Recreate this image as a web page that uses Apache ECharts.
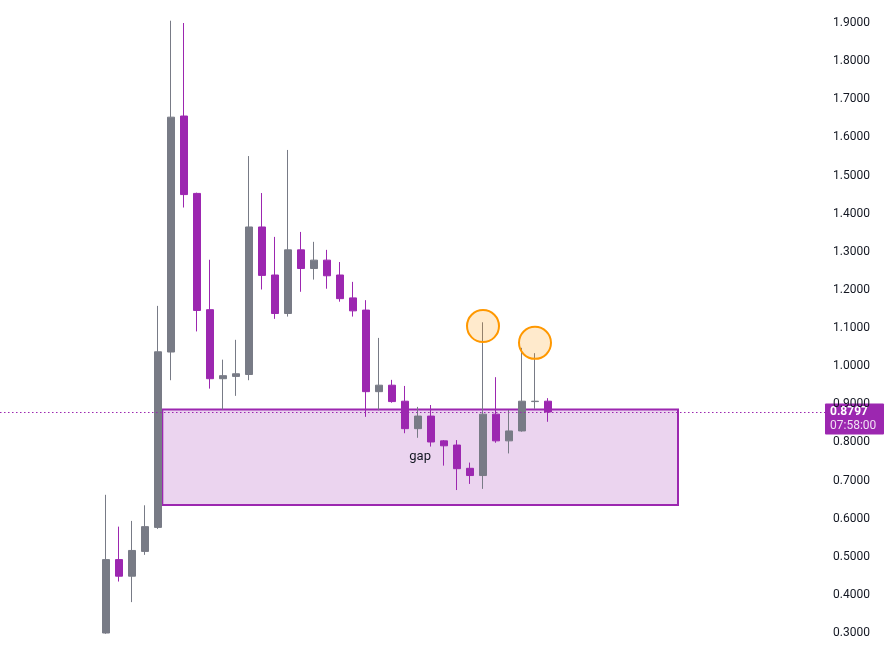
<!DOCTYPE html>
<html>
<head>
<meta charset="utf-8">
<script src="https://cdn.jsdelivr.net/npm/echarts@6/dist/echarts.min.js"></script>
<style>
html,body{margin:0;padding:0;background:#fff;}
#chart{width:888px;height:647px;}
</style>
</head>
<body>
<div id="chart"></div>
<script>
// ---- data ----
const opens  = [0.300,0.4925,0.449,0.514,0.577,1.037,1.656,1.453,1.148,0.967,0.973,0.978,1.365,1.239,1.138,1.305,1.256,1.278,1.239,1.179,1.147,0.933,0.950,0.908,0.836,0.869,0.804,0.793,0.732,0.713,0.874,0.804,0.830,0.907,0.908];
const closes = [0.4925,0.449,0.5165,0.579,1.0376,1.653,1.450,1.146,0.967,0.975,0.980,1.365,1.238,1.138,1.305,1.256,1.278,1.237,1.177,1.145,0.933,0.950,0.907,0.836,0.869,0.801,0.791,0.731,0.713,0.874,0.804,0.830,0.908,0.908,0.8797];
const lows   = [0.298,0.435,0.381,0.505,0.573,0.963,1.416,1.091,0.941,0.886,0.922,0.963,1.201,1.124,1.130,1.195,1.227,1.203,1.169,1.130,0.867,0.884,0.904,0.824,0.812,0.789,0.739,0.675,0.691,0.678,0.799,0.771,0.828,0.888,0.854];
const highs  = [0.6625,0.579,0.594,0.635,1.158,1.906,1.900,1.455,1.279,1.017,1.069,1.551,1.454,1.339,1.567,1.352,1.326,1.305,1.273,1.221,1.173,1.074,0.964,0.948,0.893,0.898,0.806,0.806,0.747,1.115,0.971,0.885,1.048,1.034,0.916];
const circleMarks = [[29, 1.105], [33, 1.061]];   // [bar index, price]
const gapX = [4.33, 44];                           // bar-index range of the gap box
const gapY = [0.886, 0.636];                       // price range of the gap box
const gapLabel = 'gap';
const lastPrice = 0.8797;
const lastTime = '07:58:00';
const yTickMin = 0.3, yTickMax = 1.9, yTickStep = 0.1;

// ---- layout ----
const W = 888, H = 647;
const gridLeft = 0, gridRight = 60, gridTop = 23, gridBottom = 14;
const barStep = 13, firstBarX = 106;
const plotW = W - gridLeft - gridRight;
const xMin = -(firstBarX - gridLeft) / barStep;
const xMax = xMin + plotW / barStep;

const UP = '#787B86', DOWN = '#9C27B0';

const candleData = opens.map((o, i) => [i, o, closes[i], lows[i], highs[i]]);

const chart = echarts.init(document.getElementById('chart'), null, {renderer: 'canvas'});
const option = {
  animation: false,
  backgroundColor: '#ffffff',
  grid: {left: gridLeft, right: gridRight, top: gridTop, bottom: gridBottom},
  xAxis: {
    type: 'value', min: xMin, max: xMax,
    show: false, splitLine: {show: false}
  },
  yAxis: {
    type: 'value', position: 'right',
    min: yTickMin, max: yTickMax, interval: yTickStep,
    axisLine: {show: false}, axisTick: {show: false}, splitLine: {show: false},
    axisLabel: {
      inside: false, margin: 5, align: 'left',
      color: '#131722', fontSize: 12, fontFamily: 'Roboto',
      formatter: v => v.toFixed(4)
    }
  },
  series: [
    {
      type: 'line', data: [], z: 1, silent: true,
      markArea: {
        silent: true,
        itemStyle: {color: 'rgba(156,39,176,0.2)', borderColor: DOWN, borderWidth: 2},
        label: {show: true, position: 'inside', formatter: gapLabel, color: '#131722', fontSize: 13, fontFamily: 'Roboto'},
        data: [[{coord: [gapX[0], gapY[0]]}, {coord: [gapX[1], gapY[1]]}]]
      },
      markLine: {
        silent: true, symbol: 'none', animation: false,
        lineStyle: {color: DOWN, type: [1.5, 2.5], width: 1},
        label: {show: false},
        data: [{yAxis: lastPrice}]
      }
    },
    {
      type: 'candlestick', z: 3, clip: false,
      barWidth: 8,
      itemStyle: {color: UP, color0: DOWN, borderColor: UP, borderColor0: DOWN, borderWidth: 1},
      data: candleData
    },
    {
      type: 'scatter', z: 4, symbol: 'circle', symbolSize: 32, silent: true,
      itemStyle: {color: 'rgba(255,152,0,0.2)', borderColor: '#FF9800', borderWidth: 2, opacity: 1},
      data: circleMarks
    }
  ]
};
chart.setOption(option);

const py = chart.convertToPixel({yAxisIndex: 0}, lastPrice);
const tagX = W - gridRight - 3;
chart.setOption({
  graphic: [{
    type: 'group', x: tagX, y: py - 8.5, z: 100,
    children: [
      {type: 'rect', shape: {x: 0, y: 0, width: 59, height: 31, r: 1}, style: {fill: DOWN}},
      {type: 'text', x: 5, y: 9, style: {text: lastPrice.toFixed(4), fill: '#ffffff', font: 'bold 12px Roboto', verticalAlign: 'middle'}},
      {type: 'text', x: 5, y: 23, style: {text: lastTime, fill: 'rgba(255,255,255,0.85)', font: '12px Roboto', verticalAlign: 'middle'}}
    ]
  }]
});
</script>
</body>
</html>
